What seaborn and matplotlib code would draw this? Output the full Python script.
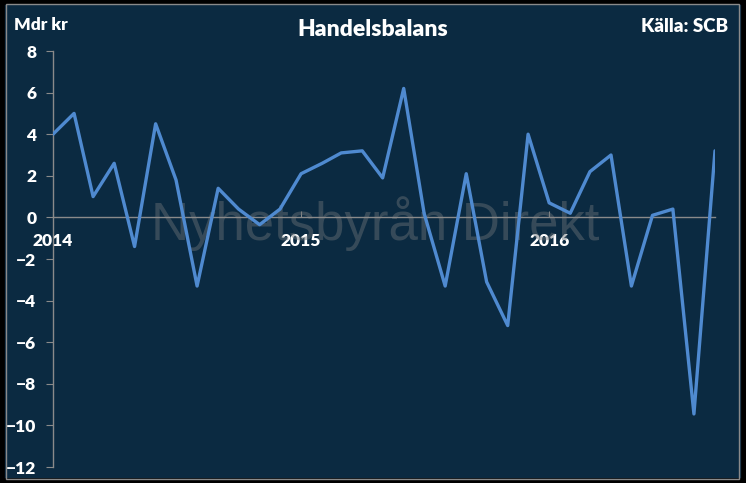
import matplotlib
matplotlib.use('Agg')
import matplotlib.pyplot as plt
import matplotlib.dates as mdates
from matplotlib.patches import Rectangle
import seaborn as sns
import pandas as pd

# Handelsbalans, Mdr kr, jan 2014 - sep 2016
months = pd.date_range('2014-01-01', periods=33, freq='MS')
values = [4.0, 5.0, 1.0, 2.6, -1.4, 4.5, 1.8, -3.3, 1.4, 0.4, -0.35, 0.4,
          2.1, 2.6, 3.1, 3.2, 1.9, 6.2, 0.2, -3.3, 2.1, -3.1, -5.2, 4.0,
          0.7, 0.2, 2.2, 3.0, -3.3, 0.1, 0.4, -9.45, 3.2]
year_ticks = ['2014-01-01', '2015-01-01', '2016-01-01']
y_ticks = list(range(-12, 9, 2))

df = pd.DataFrame({'month': months, 'value': values})

bg = '#0b2a41'
sns.set_style('dark')
plt.rcParams['font.family'] = ['Lato', 'DejaVu Sans']

fig = plt.figure(figsize=(7.46, 4.83), dpi=100)
fig.patch.set_facecolor(bg)
ax = fig.add_axes([53 / 746, 1 - 467 / 483, (715 - 53) / 746, (467 - 51) / 483])
ax.set_facecolor(bg)

sns.lineplot(data=df, x='month', y='value', ax=ax, color='#4f8ad0', linewidth=2.4, zorder=3)

ax.set_ylim(-12, 8)
ax.set_xlim(months[0], months[-1])
ax.set_yticks(y_ticks)
ax.set_xticks(pd.to_datetime(year_ticks))
ax.xaxis.set_major_formatter(mdates.DateFormatter('%Y'))
ax.set_xlabel('')
ax.set_ylabel('')
ax.grid(False)

for s in ['top', 'right']:
    ax.spines[s].set_visible(False)
ax.spines['bottom'].set_position(('data', 0))
for s in ['bottom', 'left']:
    ax.spines[s].set_color('#8a8a8a')
    ax.spines[s].set_linewidth(1)
    ax.spines[s].set_zorder(2)
ax.tick_params(axis='y', direction='out', length=5, color='#8a8a8a', pad=7, left=True,
               labelcolor='white', labelsize=12.5)
ax.tick_params(axis='x', direction='in', length=4, color='#8a8a8a', pad=11, bottom=True,
               labelcolor='white', labelsize=12.5)

# watermark
ax.text(0.487, 0.585, 'Nyhetsbyrån Direkt', transform=ax.transAxes, ha='center', va='center',
        fontsize=38, fontweight='normal', color='#6b7378', alpha=0.45, zorder=1,
        family=['Liberation Sans', 'DejaVu Sans'])

fig.text(0.5, 1 - 29 / 483, 'Handelsbalans', ha='center', va='center',
         color='white', fontsize=16.5, fontweight='heavy')
fig.text(14 / 746, 1 - 25 / 483, 'Mdr kr', ha='left', va='center',
         color='white', fontsize=12.5, fontweight='heavy')
fig.text(728 / 746, 1 - 27 / 483, 'Källa: SCB', ha='right', va='center',
         color='white', fontsize=13.5, fontweight='heavy')

# frame
fig.patches.append(Rectangle((0, 0), 1, 1, transform=fig.transFigure, fill=False,
                             edgecolor='black', linewidth=7, zorder=10))
fig.patches.append(Rectangle((6 / 746, 4 / 483), 733 / 746, 475 / 483, transform=fig.transFigure,
                             fill=False, edgecolor='#8a8a8a', linewidth=1, zorder=11))

fig.canvas.draw()
plt.setp(ax.get_xticklabels() + ax.get_yticklabels(), fontweight='heavy')

fig.savefig('out.png', dpi=100, facecolor=bg)
